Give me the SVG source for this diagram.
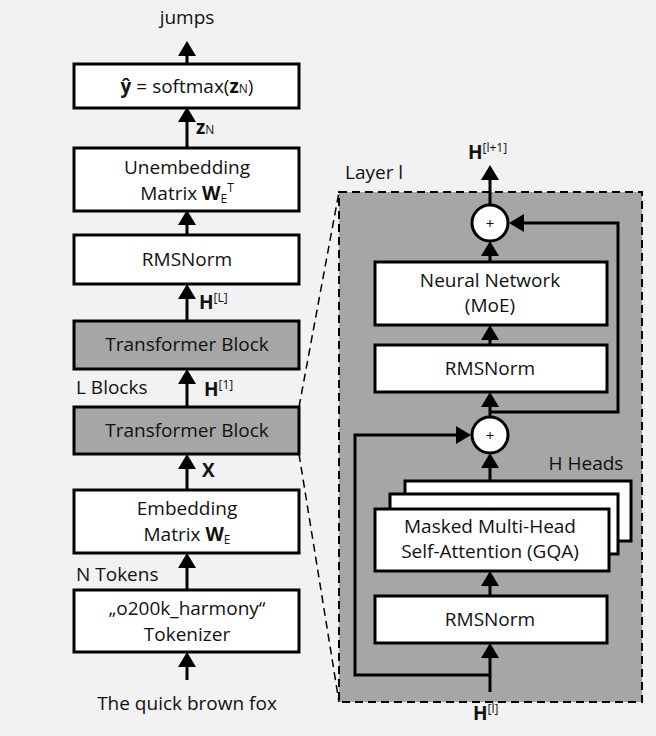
<svg xmlns="http://www.w3.org/2000/svg" width="656" height="736" viewBox="0 0 656 736">
<style>
text{font-family:"Open Sans","DejaVu Sans",sans-serif;font-size:19px;fill:#111;text-anchor:middle}
text.st{text-anchor:start}
.b{fill:#fff;stroke:#000;stroke-width:3}
.g{fill:#a6a6a6;stroke:#000;stroke-width:3}
.l{stroke:#000;stroke-width:3;fill:none}
.bd{font-weight:bold}
.s{font-size:12px}
</style>
<defs><marker id="a" markerWidth="6" markerHeight="6" refX="4" refY="3" orient="auto" markerUnits="strokeWidth"><path d="M0,0L5,3L0,6z" fill="#000"/></marker></defs>
<rect width="656" height="736" fill="#f2f2f2"/>
<g id="panel"><rect x="339" y="192" width="303" height="510" fill="#a6a6a6" stroke="#000" stroke-width="2" stroke-dasharray="8,5"/></g>
<g id="connectors">
<path class="l" d="M187,64V44" marker-end="url(#a)"/>
<path class="l" d="M187,148V110" marker-end="url(#a)"/>
<path class="l" d="M187,235V213" marker-end="url(#a)"/>
<path class="l" d="M187,321V287" marker-end="url(#a)"/>
<path class="l" d="M187,407V372" marker-end="url(#a)"/>
<path class="l" d="M187,490V457" marker-end="url(#a)"/>
<path class="l" d="M187,590V556" marker-end="url(#a)"/>
<path class="l" d="M187,680V655" marker-end="url(#a)"/>
<path d="M299,407L339,192M299,454L339,702" stroke="#000" stroke-width="1.5" stroke-dasharray="8,5" fill="none"/>
<path class="l" d="M490,205V168" marker-end="url(#a)"/>
<path class="l" d="M490,262V244" marker-end="url(#a)"/>
<path class="l" d="M490,345V328" marker-end="url(#a)"/>
<path class="l" d="M490,417V395" marker-end="url(#a)"/>
<path class="l" d="M490,412H618V223H512" marker-end="url(#a)"/>
<path class="l" d="M490,509V456" marker-end="url(#a)"/>
<path class="l" d="M490,596V574" marker-end="url(#a)"/>
<path class="l" d="M490,692V646" marker-end="url(#a)"/>
<path class="l" d="M490,675H355V435H468" marker-end="url(#a)"/>
</g>
<text x="187" y="24">jumps</text>
<g id="softmax"><rect class="b" x="74" y="64" width="225" height="44"/><text x="187" y="93"><tspan class="bd">ŷ</tspan> = softmax(<tspan class="bd">z</tspan><tspan class="s">N</tspan>)</text></g>
<text class="st" x="196" y="134"><tspan class="bd">z</tspan><tspan class="s">N</tspan></text>
<g id="unembed"><rect class="b" x="74" y="148" width="225" height="63"/><text x="187" y="174">Unembedding</text><text x="187" y="200">Matrix <tspan class="bd">W</tspan><tspan class="s" dy="3">E</tspan><tspan class="s" dy="-11">T</tspan></text></g>
<g id="rms1"><rect class="b" x="74" y="235" width="225" height="49"/><text x="187" y="266">RMSNorm</text></g>
<text class="st" x="199" y="309"><tspan class="bd">H</tspan><tspan class="s" dy="-7">[L]</tspan></text>
<g id="tb2"><rect class="g" x="74" y="321" width="225" height="48"/><text x="187" y="351">Transformer Block</text></g>
<text class="st" x="76" y="394">L Blocks</text>
<text class="st" x="204" y="396"><tspan class="bd">H</tspan><tspan class="s" dy="-7">[1]</tspan></text>
<g id="tb1"><rect class="g" x="74" y="407" width="225" height="47"/><text x="187" y="437">Transformer Block</text></g>
<text class="st bd" x="202" y="477">X</text>
<g id="embed"><rect class="b" x="74" y="490" width="225" height="63"/><text x="187" y="515">Embedding</text><text x="187" y="541">Matrix <tspan class="bd">W</tspan><tspan class="s" dy="3">E</tspan></text></g>
<text class="st" x="76" y="581">N Tokens</text>
<g id="tok"><rect class="b" x="74" y="590" width="225" height="62"/><text x="187" y="615">„o200k_harmony“</text><text x="187" y="641">Tokenizer</text></g>
<text x="187" y="710">The quick brown fox</text>
<text class="st" x="345" y="179">Layer l</text>
<text class="st" x="468" y="159"><tspan class="bd">H</tspan><tspan class="s" dy="-7">[l+1]</tspan></text>
<g id="plus1"><circle class="b" cx="490" cy="223" r="18"/><text x="490" y="229" style="font-size:15px">+</text></g>
<g id="nn"><rect class="b" x="375" y="262" width="232" height="63"/><text x="490" y="287">Neural Network</text><text x="490" y="312">(MoE)</text></g>
<g id="rms2"><rect class="b" x="375" y="345" width="232" height="47"/><text x="490" y="375">RMSNorm</text></g>
<g id="plus2"><circle class="b" cx="490" cy="435" r="18"/><text x="490" y="441" style="font-size:15px">+</text></g>
<text x="586" y="470">H Heads</text>
<g id="attn"><rect class="b" x="405" y="481" width="226" height="60"/><rect class="b" x="390" y="494" width="228" height="60"/><rect class="b" x="375" y="509" width="234" height="62"/><text x="490" y="533">Masked Multi-Head</text><text x="490" y="558">Self-Attention (GQA)</text></g>
<g id="rms3"><rect class="b" x="375" y="596" width="232" height="47"/><text x="490" y="626">RMSNorm</text></g>
<text class="st" x="473" y="720"><tspan class="bd">H</tspan><tspan class="s" dy="-7">[l]</tspan></text>
</svg>
